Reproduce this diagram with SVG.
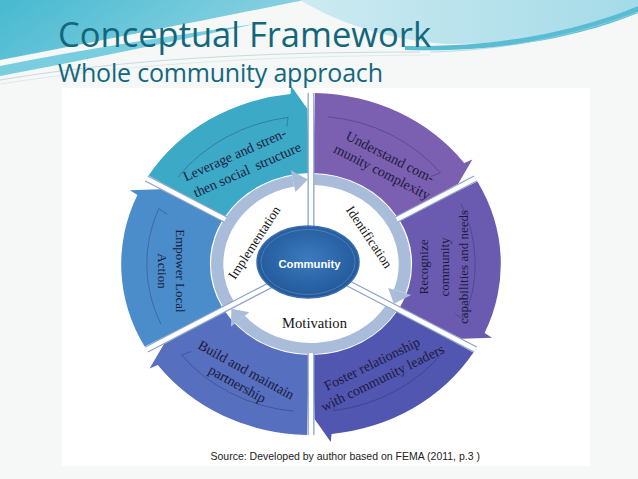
<svg xmlns="http://www.w3.org/2000/svg" width="638" height="479" viewBox="0 0 638 479">
<defs>
<linearGradient id="gTeal" x1="0" y1="0" x2="1" y2="0.3"><stop offset="0" stop-color="#47b9d0"/><stop offset="1" stop-color="#8dd3e2"/></linearGradient>
<linearGradient id="gCyan" x1="0" y1="0" x2="1" y2="0"><stop offset="0" stop-color="#cdeaf1"/><stop offset="1" stop-color="#a4dbe8"/></linearGradient>
<radialGradient id="gComm" cx="0.5" cy="0.45" r="0.6"><stop offset="0" stop-color="#3b7abf"/><stop offset="1" stop-color="#1f5596"/></radialGradient>
</defs>
<style>
.seg-label{font-family:"Liberation Serif","Times New Roman",serif;font-size:14px;fill:#1b1a3a;text-anchor:middle}
.inner-label{font-family:"Liberation Serif","Times New Roman",serif;font-size:13.3px;fill:#141414;text-anchor:middle}
.band-edge{stroke:#8ea3c9;stroke-width:7;fill:none}
.band-core{stroke:#ffffff;stroke-width:4.4;fill:none}
.deco{fill:none;stroke:#1a1a40;stroke-opacity:.3;stroke-width:1}
.ring{fill:none;stroke:#a9bcda;stroke-width:11}
.ring-head{fill:#a9bcda}
.title{font-family:"Open Sans","DejaVu Sans",sans-serif;fill:#13677d}
</style>
<rect width="638" height="479" fill="#f6f7f7"/>
<rect x="62" y="88" width="528" height="378" fill="#ffffff"/>
<g id="header-bg">
<path d="M0,0 H305 C235,14 125,36 0,60 Z" fill="url(#gTeal)"/>
<path d="M0,66 C90,48 170,36 255,24 C170,42 85,60 0,76 Z" fill="#78cddf"/>
<path d="M300,0 C340,24 390,40 445,44 C525,45 592,26 638,6 V0 Z" fill="url(#gCyan)"/>
<path d="M405,46 C505,48 585,28 638,6 V13 C585,35 505,53 405,50 Z" fill="#58bdd3"/>
<path d="M0,80 C120,60 250,52 420,52" stroke="#b9d3d9" stroke-width="0.8" fill="none"/>
<path d="M0,84 C130,64 260,56 430,55" stroke="#cfe0e3" stroke-width="0.6" fill="none"/>
<path d="M430,52 C520,50 590,30 638,12" stroke="#9fd3df" stroke-width="0.7" fill="none"/>
</g>
<text id="title" class="title" x="58" y="47" font-size="34.5">Conceptual Framework</text>
<text id="subtitle" class="title" x="58" y="82" font-size="25" textLength="325">Whole community approach</text>

<g id="seg-leverage">
<g transform="translate(311,264) scale(1.11,1)">
<path d="M-77.8,-47.1 L-146.3,-88.6 A171,171 0 0 1 -18.5,-170 L-17.8,-178.1 L-3.2,-155 L-1.9,-91 A91,91 0 0 0 -77.8,-47.1 Z" fill="#3ca9c7"/>
<path class="deco" vector-effect="non-scaling-stroke" d="M-119.7,-87 A148,148 0 0 1 -20.6,-146.6 L-21.7,-137.3"/>
</g>
<text class="seg-label" transform="translate(236.5,159) rotate(-24)">Leverage and stren-</text>
<text class="seg-label" transform="translate(249,174) rotate(-24)" xml:space="preserve">then social  structure</text>
</g>

<g id="seg-understand">
<g transform="translate(311,264) scale(1.11,1)">
<path d="M1.9,-91 L3.6,-171 A171,171 0 0 1 138,-101 L145.4,-104.5 L132.6,-80.3 L77.8,-47.1 A91,91 0 0 0 1.9,-91 Z" fill="#7b5fb0"/>
<path class="deco" vector-effect="non-scaling-stroke" d="M15.5,-147.2 A148,148 0 0 1 116.6,-91.1 L108,-87.5"/>
</g>
<text class="seg-label" transform="translate(388,161) rotate(27)">Understand com-</text>
<text class="seg-label" transform="translate(380,176) rotate(27)">munity complexity</text>
</g>

<g id="seg-recognize">
<g transform="translate(311,264) scale(1.11,1)">
<path d="M79.8,-43.9 L149.9,-82.4 A171,171 0 0 1 156.4,69 L163.1,73.7 L135.9,74.7 L79.8,43.9 A91,91 0 0 0 79.8,-43.9 Z" fill="#6a5bb1"/>
<path class="deco" vector-effect="non-scaling-stroke" d="M135.2,-60.2 A148,148 0 0 1 137.2,55.4 L129.8,49.8"/>
</g>
<text class="seg-label" style="font-size:13px" transform="translate(428,267) rotate(-90)">Recognize</text>
<text class="seg-label" style="font-size:13px" transform="translate(449,267) rotate(-90)">community</text>
<text class="seg-label" style="font-size:13px" transform="translate(468,267) rotate(-90)">capabilities and needs</text>
</g>

<g id="seg-foster">
<g transform="translate(311,264) scale(1.11,1)">
<path d="M77.8,47.1 L146.3,88.6 A171,171 0 0 1 18.5,170 L17.8,178.1 L3.2,155 L1.9,91 A91,91 0 0 0 77.8,47.1 Z" fill="#5156b0"/>
<path class="deco" vector-effect="non-scaling-stroke" d="M119.7,87 A148,148 0 0 1 20.6,146.6 L21.7,137.3"/>
</g>
<text class="seg-label" transform="translate(374,368) rotate(-26)">Foster relationship</text>
<text class="seg-label" transform="translate(384.5,382) rotate(-26)">with community leaders</text>
</g>

<g id="seg-build">
<g transform="translate(311,264) scale(1.11,1)">
<path d="M-1.9,91 L-3.6,171 A171,171 0 0 1 -138,101 L-145.4,104.5 L-132.6,80.3 L-77.8,47.1 A91,91 0 0 0 -1.9,91 Z" fill="#566fbf"/>
<path class="deco" vector-effect="non-scaling-stroke" d="M-15.5,147.2 A148,148 0 0 1 -116.6,91.1 L-108,87.5"/>
</g>
<text class="seg-label" transform="translate(244,374) rotate(29)">Build and maintain</text>
<text class="seg-label" transform="translate(235,388) rotate(29)">partnership</text>
</g>

<g id="seg-empower">
<g transform="translate(311,264) scale(1.11,1)">
<path d="M-79.8,43.9 L-149.9,82.4 A171,171 0 0 1 -156.4,-69 L-163.1,-73.7 L-135.9,-74.7 L-79.8,-43.9 A91,91 0 0 0 -79.8,43.9 Z" fill="#4a8dca"/>
<path class="deco" vector-effect="non-scaling-stroke" d="M-135.2,60.2 A148,148 0 0 1 -137.2,-55.4 L-129.8,-49.8"/>
</g>
<text class="seg-label" style="font-size:13px" transform="translate(175.5,271) rotate(90)">Empower Local</text>
<text class="seg-label" style="font-size:13px" transform="translate(158,271) rotate(90)">Action</text>
</g>

<g id="ring-implementation">
<g transform="translate(311,264) scale(1.11,1)">
<path class="ring" d="M-74.6,39.7 A84.5,84.5 0 0 1 -16.1,-82.9"/>
<path class="ring-head" d="M-14,-72.1 L-18.2,-93.7 L-2.9,-84.4 Z"/>
</g>
<text class="inner-label" transform="translate(258,245) rotate(-57)">Implementation</text>
</g>

<g id="ring-identification">
<g transform="translate(311,264) scale(1.11,1)">
<path class="ring" d="M2.9,-84.4 A84.5,84.5 0 0 1 79.9,27.5"/>
<path class="ring-head" d="M69.5,23.9 L90.3,31.1 L74.6,39.7 Z"/>
</g>
<text class="inner-label" transform="translate(365.5,239.5) rotate(56)">Identification</text>
</g>

<g id="ring-motivation">
<g transform="translate(311,264) scale(1.11,1)">
<path class="ring" d="M71.7,44.8 A84.5,84.5 0 0 1 -63.8,55.4"/>
<path class="ring-head" d="M-55.5,48.2 L-72.1,62.7 L-71.7,44.8 Z"/>
</g>
<text class="inner-label" style="font-size:14.6px" x="314.5" y="328">Motivation</text>
</g>

<g id="connectors">
<path class="band-edge" d="M311,264 L311,93 M311,264 L475.4,349.5 M311,264 L146.6,349.5 M396.6,219.5 L475.4,178.5 M225.4,219.5 L146.6,178.5 M311,353 L311,435"/>
<path class="band-core" d="M311,264 L311,93 M311,264 L475.4,349.5 M311,264 L146.6,349.5 M396.6,219.5 L475.4,178.5 M225.4,219.5 L146.6,178.5 M311,353 L311,435"/>
</g>

<g id="community">
<ellipse cx="308" cy="262" rx="51" ry="36" fill="url(#gComm)" stroke="#3a6eae" stroke-width="1.5"/>
<ellipse cx="308" cy="262" rx="47" ry="32.5" fill="none" stroke="#ffffff" stroke-opacity="0.18" stroke-width="1"/>
<text x="309.5" y="268" font-family="'Liberation Sans',Arial,sans-serif" font-weight="bold" font-size="11.3" fill="#ffffff" text-anchor="middle">Community</text>
</g>

<text id="source" x="210.5" y="460" font-family="'Liberation Sans',Arial,sans-serif" font-size="10.5" fill="#222222">Source: Developed by author based on FEMA (2011, p.3 )</text>
</svg>
